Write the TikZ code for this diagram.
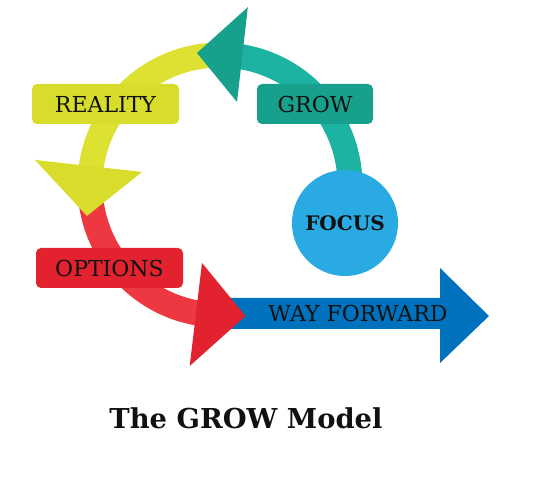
\documentclass[tikz,border=0pt]{standalone}
\usepackage{fontspec}
\setmainfont{DejaVu Serif}
\definecolor{ink}{HTML}{111111}
\definecolor{growband}{HTML}{1DB3A2}
\definecolor{growhead}{HTML}{17A08B}
\definecolor{realband}{HTML}{DCE132}
\definecolor{realhead}{HTML}{D8DD2C}
\definecolor{optband}{HTML}{EE3841}
\definecolor{opthead}{HTML}{E2222F}
\definecolor{focusblue}{HTML}{2AAAE2}
\definecolor{wayblue}{HTML}{0071BC}

\begin{document}
\begin{tikzpicture}[
  x=1pt,y=1pt,
  band/.style={line width=25pt},
  tag/.style={rounded corners=5pt,minimum height=40pt,inner sep=0pt,
              text=ink,font=\fontsize{22}{24}\selectfont},
  focusdot/.style={circle,fill=focusblue,minimum size=106pt,inner sep=0pt,
                   text=ink,font=\bfseries\fontsize{20}{22}\selectfont},
  caption/.style={text=ink,font=\bfseries\fontsize{27.4}{30}\selectfont}
]
\useasboundingbox (0,0) rectangle (539,490);
\coordinate (hub) at (220,305);

% Way forward: straight arrow out of the loop.
\fill[wayblue] (215,161) -- (440,161) -- (440,127) -- (489,174)
  -- (440,222) -- (440,192) -- (215,192) -- cycle;
\node[text=ink,font=\fontsize{22}{24}\selectfont] (way) at (358,177) {WAY FORWARD};

% Options: lower quarter, head over the blue shaft.
\draw[band,optband] (hub) ++(185:130) arc[start angle=185,end angle=263,radius=130];
\fill[opthead] ([shift={(hub)}]257:80) -- ([shift={(hub)}]260.5:183.5)
  -- ([shift={(hub)}]281:133.5) -- cycle;

% Reality: upper left quarter.
\draw[band,realband] (hub) ++(90:130) arc[start angle=90,end angle=175,radius=130];
\fill[realhead] ([shift={(hub)}]170.5:79) -- ([shift={(hub)}]172.3:186.7)
  -- ([shift={(hub)}]193.1:136.6) -- cycle;

% Grow: rises from the focus circle.
\draw[band,growband] (hub) ++(-8:130) arc[start angle=-8,end angle=83,radius=130];
\fill[growhead] ([shift={(hub)}]78.4:84.7) -- ([shift={(hub)}]81.1:180)
  -- ([shift={(hub)}]99.9:134) -- cycle;

\node[focusdot] (focus) at (345,267) {FOCUS};

\node[tag,fill=realhead,minimum width=147pt] (reality) at (105.5,386) {REALITY};
\node[tag,fill=growhead,minimum width=116pt] (grow) at (315,386) {GROW};
\node[tag,fill=opthead,minimum width=147pt] (options) at (109.5,222) {OPTIONS};

\node[caption] (title) at (246,72) {The GROW Model};

\end{tikzpicture}
\end{document}
